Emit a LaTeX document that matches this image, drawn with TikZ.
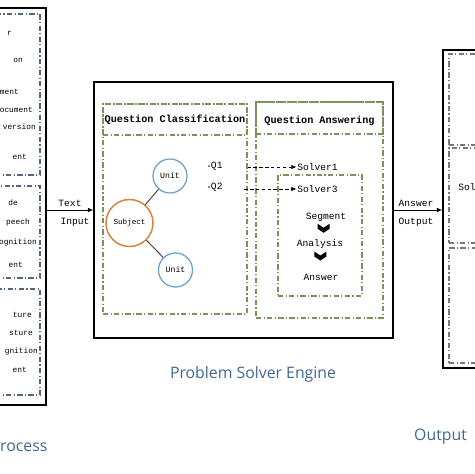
\documentclass[tikz,border=0pt]{standalone}
\usepackage{fontspec}
\setmainfont{Liberation Serif}
\newfontfamily\monofont{Liberation Mono}
\newfontfamily\uifont{Open Sans}
\usetikzlibrary{arrows.meta,positioning,calc}
\definecolor{engineGreen}{RGB}{120, 148, 92}
\definecolor{engineSlate}{RGB}{84, 102, 132}
\definecolor{engineGray}{RGB}{118, 120, 128}
\definecolor{engineBlue}{RGB}{112, 160, 204}
\definecolor{engineOrange}{RGB}{218, 132, 62}
\definecolor{engineCaption}{RGB}{62, 104, 146}

\begin{document}
\begin{tikzpicture}[
  x=0.3mm, y=-0.3mm,
  frame/.style={
    draw,
    line width=1.2pt,
    inner sep=0pt
  },
  greenbox/.style={
    draw=engineGreen,
    line width=0.9pt,
    dash pattern=on 4.5pt off 2pt on 1pt off 2pt,
    inner sep=0pt
  },
  slatebox/.style={
    greenbox,
    draw=engineSlate
  },
  graybox/.style={
    greenbox,
    draw=engineGray
  },
  title/.style={font=\monofont\bfseries\fontsize{8.7}{10}\selectfont},
  label/.style={font=\monofont\fontsize{8.2}{9}\selectfont, inner sep=1pt},
  item/.style={font=\monofont\fontsize{6.7}{8}\selectfont, anchor=east, inner sep=0pt},
  bubble/.style={
    circle,
    draw=engineBlue,
    line width=1.1pt,
    minimum size=10.2mm,
    inner sep=0pt,
    font=\monofont\fontsize{7}{8}\selectfont
  },
  caption/.style={font=\uifont\fontsize{13.5}{16}\selectfont, text=engineCaption},
  arrow/.style={-{Latex[length=1.6mm,width=1.4mm]},thick},
  dasharrow/.style={-{Triangle[length=1.4mm,width=1.2mm]},densely dashed,thin}
]
  \useasboundingbox (0,0) rectangle (474,474);

  % input side
  \node[frame,minimum width=15.3mm,minimum height=119.1mm] (inbox) at (20.5,206.5) {};
  \node[slatebox,minimum width=13.5mm,minimum height=48.3mm] (in1) at (17.5,94.5) {};
  \node[slatebox,minimum width=13.5mm,minimum height=27.6mm] (in2) at (17.5,232) {};
  \node[slatebox,minimum width=13.5mm,minimum height=31.8mm] (in3) at (17.5,342) {};
  \node[item] (i11) at (12,33) {r};
  \node[item] (i12) at (23,60) {on};
  \node[item] (i13) at (19,92) {ment};
  \node[item] (i14) at (33,110) {ocument};
  \node[item] (i15) at (36,127) {version};
  \node[item] (i16) at (27,157) {ent};
  \node[item] (i21) at (18,203) {de};
  \node[item] (i22) at (30,222) {peech};
  \node[item] (i23) at (37,242) {ognition};
  \node[item] (i24) at (23,265) {ent};
  \node[item] (i31) at (32,315) {ture};
  \node[item] (i32) at (33,333) {sture};
  \node[item] (i33) at (38,351) {gnition};
  \node[item] (i34) at (27,370) {ent};

  % engine
  \node[frame,minimum width=89.7mm,minimum height=76.8mm] (engine) at (243.5,210) {};
  \node[greenbox,minimum width=43.2mm,minimum height=63mm] (qc) at (175,209) {};
  \node[greenbox,minimum width=43.2mm,minimum height=9.3mm] (qchead) at (175,119.5) {};
  \node[title] (qctitle) at (175,120) {Question Classification};
  \node[greenbox,minimum width=38.1mm,minimum height=64.8mm] (qa) at (319.5,210) {};
  \node[greenbox,minimum width=38.1mm,minimum height=9.6mm] (qahead) at (319.5,118) {};
  \node[title] (qatitle) at (319.5,121) {Question Answering};
  \node[greenbox,minimum width=25.2mm,minimum height=36.3mm] (s3box) at (320,235.5) {};

  \node[bubble] (unitA) at (170,176) {Unit};
  \node[bubble,draw=engineOrange,line width=1.3pt,minimum size=14.1mm,font=\monofont\fontsize{6.5}{8}\selectfont] (subject) at (129.5,223) {Subject};
  \node[bubble] (unitB) at (175.5,270) {Unit};
  \draw[line width=0.8pt,black!75] (subject) -- (unitA);
  \draw[line width=0.8pt,black!75] (subject) -- (unitB);

  \node[label] (q1) at (215,166) {{\fontsize{5}{5}\selectfont•}Q1};
  \node[label] (q2) at (215,187) {{\fontsize{5}{5}\selectfont•}Q2};
  \node[label,anchor=west] (solver1) at (296,167) {Solver1};
  \node[label,anchor=west] (solver3) at (296,189) {Solver3};
  \draw[dasharrow] (qc.east |- solver1.west) -- (solver1.west);
  \draw[dasharrow] ([xshift=-1mm]qc.east |- solver3.west) -- (solver3.west);

  \node[label] (seg) at (326,217) {Segment};
  \node[label] (ana) at (320,244) {Analysis};
  \node[label] (ans) at (321,277) {Answer};
  \fill ($(seg)!0.4!(ana)$) ++(-6,-4) -- ++(6,4) -- ++(6,-4) -- ++(0,5) -- ++(-6,4) -- ++(-6,-4) -- cycle;
  \fill ($(ana)!0.35!(ans)$) ++(-6,-4) -- ++(6,4) -- ++(6,-4) -- ++(0,5) -- ++(-6,4) -- ++(-6,-4) -- cycle;

  % output side
  \node[frame,minimum width=17.1mm,minimum height=95.4mm] (outbox) at (471.5,209) {};
  \node[graybox,minimum width=15.3mm,minimum height=27.3mm] (out1) at (474.5,99.5) {};
  \node[graybox,minimum width=15.3mm,minimum height=28.5mm] (out2) at (474.5,195.5) {};
  \node[graybox,minimum width=15.3mm,minimum height=34.5mm] (out3) at (474.5,305.5) {};
  \node[label,anchor=west] (sol) at (457,187) {Sol};

  % links
  \draw[arrow] (inbox.east |- engine.west) -- (engine.west);
  \node[label] (txt) at (70,203) {Text};
  \node[label] (inp) at (75,222) {Input};
  \draw[arrow] (engine.east) -- (outbox.west |- engine.east);
  \node[label] (answ) at (416,203) {Answer};
  \node[label] (outp) at (416,222) {Output};

  % captions
  \node[caption] (engcap) at (253,374) {Problem Solver Engine};
  \node[caption,anchor=west,inner sep=0pt] (procap) at (0,447) {rocess};
  \node[caption,anchor=west,inner sep=0pt] (outcap) at (414,437) {Output};
\end{tikzpicture}
\end{document}
